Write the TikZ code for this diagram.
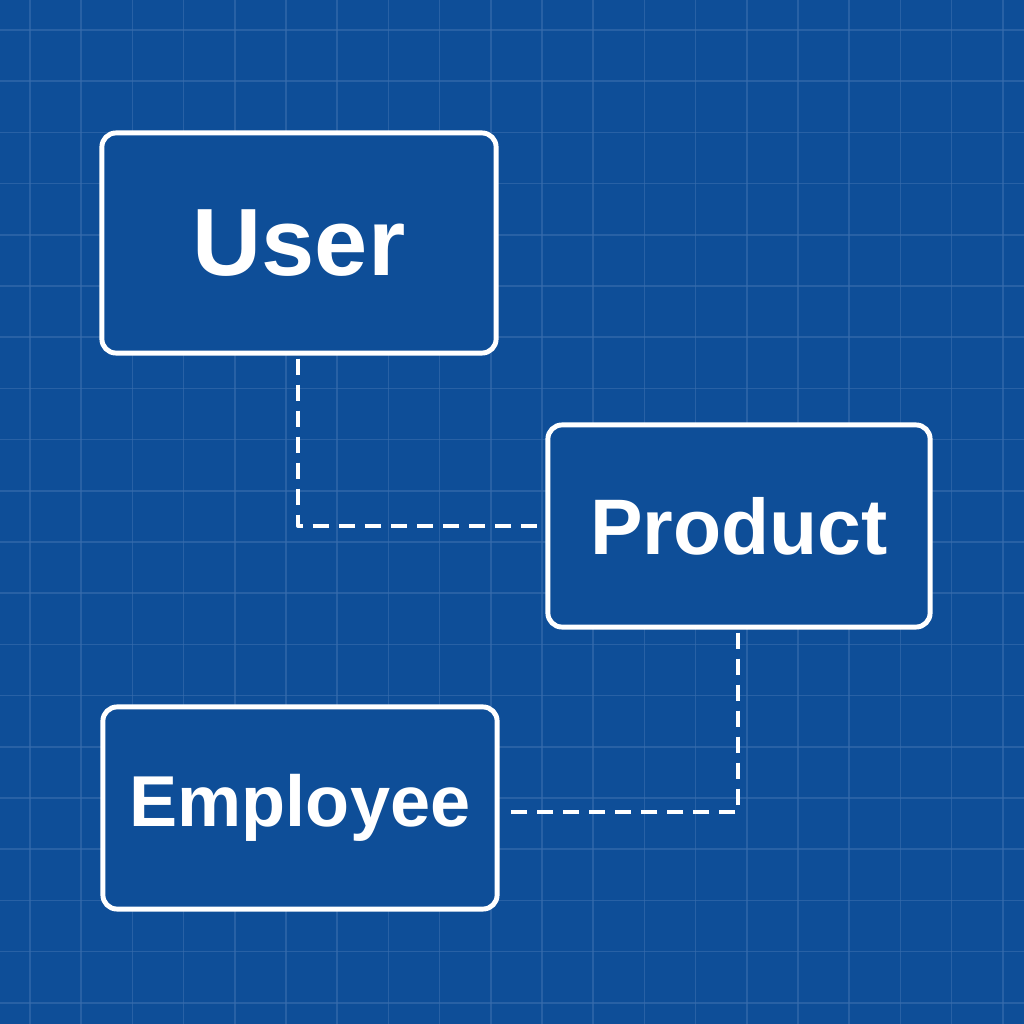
\documentclass[tikz,border=0pt]{standalone}
\usepackage{fontspec}
\setmainfont{Liberation Sans}
\usetikzlibrary{calc}
\definecolor{bpblue}{HTML}{0E4E98}
\definecolor{bpgrid}{HTML}{3A6EAE}
\begin{document}
\begin{tikzpicture}[line cap=round, line join=round, x=0.01cm, y=-0.01cm]
  \tikzset{
    box/.style={draw=white, line width=1.4pt, rounded corners=4pt, fill=bpblue,
      text=white, font=\bfseries, inner sep=0pt},
    link/.style={white, line width=1.1pt, line cap=butt, dash pattern=on 4.6pt off 2.8pt}
  }
  % --- background + grid
  \fill[bpblue] (0,0) rectangle (1024,1024);
  \useasboundingbox (0,0) rectangle (1024,1024);
  \foreach \g in {0,...,20} {
    \draw[bpgrid, line width=0.5pt, opacity=0.6] ({30+51.2*\g},0) -- ({30+51.2*\g},1024);
    \draw[bpgrid, line width=0.5pt, opacity=0.6] (0,{30+51.2*\g}) -- (1024,{30+51.2*\g});
  }

  % --- boxes
  \node[box, minimum width=3.94cm, minimum height=2.2cm, font=\fontsize{27.2}{30}\bfseries]
    (user) at (299,243) {User};
  \node[box, minimum width=3.82cm, minimum height=2.02cm, font=\fontsize{22.4}{26}\bfseries]
    (product) at (739,526) {Product};
  \node[box, minimum width=3.94cm, minimum height=2.02cm, font=\fontsize{20.5}{22}\bfseries]
    (employee) at (300,808) {Employee};

  % --- dashed links
  \coordinate (empend) at ($(employee.east)+(11,4)$);
  \draw[link] ($(user.south)+(-1,3)$) |- (product.west);
  \draw[link] ($(product.south)+(-1,3)$) |- (empend);
\end{tikzpicture}
\end{document}
